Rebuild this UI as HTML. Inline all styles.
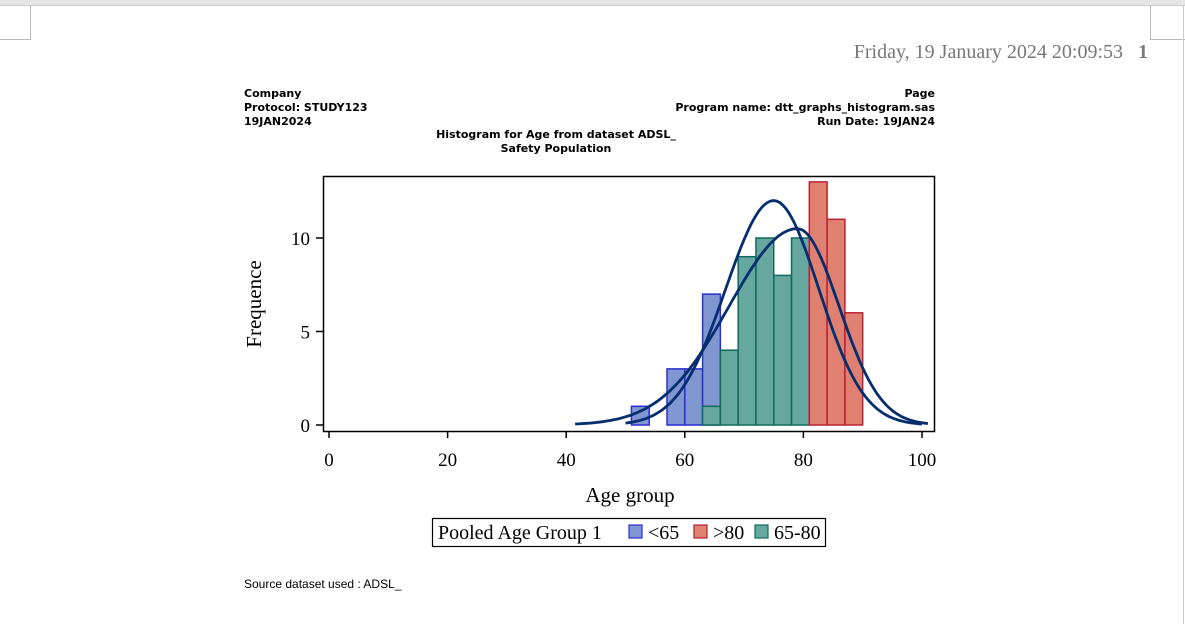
<!DOCTYPE html>
<html><head><meta charset="utf-8"><style>
body{margin:0;width:1185px;height:624px;background:#fff;overflow:hidden;position:relative;font-family:"Liberation Sans",sans-serif}
.t{position:absolute;font-family:"DejaVu Sans",sans-serif;font-size:11px;font-weight:bold;white-space:nowrap}
</style></head><body>
<div style="position:absolute;left:0;top:0;width:1185px;height:5px;background:#e6e6e6;border-bottom:1px solid #ccc"></div>
<div style="position:absolute;left:0;top:6px;width:30px;height:33px;border-right:1px solid #bbb;border-bottom:1px solid #bbb"></div>
<div style="position:absolute;left:1150px;top:6px;width:35px;height:33px;border-left:1px solid #bbb;border-bottom:1px solid #bbb"></div>
<div style="position:absolute;left:1183px;top:6px;width:1px;height:618px;background:#ccc"></div>
<div style="position:absolute;right:37px;top:41px;font-family:'Liberation Serif',serif;font-size:20px;color:#777;white-space:nowrap">Friday, 19 January 2024 20:09:53 &nbsp;&nbsp;<b>1</b></div>
<div class="t" style="left:244px;top:87px">Company</div>
<div class="t" style="left:244px;top:101px">Protocol: STUDY123</div>
<div class="t" style="left:244px;top:115px">19JAN2024</div>
<div class="t" style="right:250px;top:87px">Page</div>
<div class="t" style="right:250px;top:101px">Program name: dtt_graphs_histogram.sas</div>
<div class="t" style="right:250px;top:115px">Run Date: 19JAN24</div>
<div class="t" style="left:0;width:1112px;text-align:center;top:128px">Histogram for Age from dataset ADSL_</div>
<div class="t" style="left:0;width:1112px;text-align:center;top:142px">Safety Population</div>
<div style="position:absolute;left:244px;top:577px;font-size:12px">Source dataset used : ADSL_</div>
<svg id="s" width="1185" height="624" style="position:absolute;left:0;top:0" font-family="Liberation Serif,serif"></svg>
<script>
const s=document.getElementById('s');
const X=v=>329+v*5.93, Y=v=>425-v*18.7;
let h='<rect x="323.5" y="176.5" width="611" height="255" fill="none" stroke="#000" stroke-width="1.5"/>';
const bars=[[51,1,'b'],[57,3,'b'],[60,3,'b'],[63,7,'b'],[63,1,'g'],[66,4,'g'],[69,9,'g'],[72,10,'g'],[75,8,'g'],[78,10,'g'],[81,13,'r'],[84,11,'r'],[87,6,'r']];
const col={b:['#7f96d1','#2a2fd0'],g:['#66a8a0','#0f6a5c'],r:['#e08070','#b82233']};
for(const [a,c,k] of bars){h+=`<rect x="${X(a)}" y="${Y(c)}" width="${3*5.93}" height="${c*18.7}" fill="${col[k][0]}" stroke="${col[k][1]}" stroke-width="1.5"/>`;}
function curve(m,sl,sr,A,a,b){let p='';for(let v=a;v<=b;v+=0.5){const sd=v<m?sl:sr;p+=(p?'L':'M')+X(v).toFixed(1)+','+Y(A*Math.exp(-((v-m)**2)/(2*sd*sd))).toFixed(1);}return `<path d="${p}" fill="none" stroke="#062e6f" stroke-width="2.8"/>`;}
h+=curve(75,8.1,7.6,12,50,100)+curve(79,11.5,7,10.5,41.5,101);
for(const v of [0,20,40,60,80,100]){h+=`<line x1="${X(v)}" y1="431" x2="${X(v)}" y2="438" stroke="#000" stroke-width="1.5"/><text x="${X(v)}" y="466" font-size="19" text-anchor="middle">${v}</text>`;}
for(const v of [0,5,10]){h+=`<line x1="316" y1="${Y(v)}" x2="323" y2="${Y(v)}" stroke="#000" stroke-width="1.5"/><text x="310" y="${Y(v)+7}" font-size="19" text-anchor="end">${v}</text>`;}
h+=`<text x="630" y="502" font-size="21" text-anchor="middle">Age group</text>`;
h+=`<text transform="translate(261,304) rotate(-90)" font-size="21" text-anchor="middle">Frequence</text>`;
h+=`<rect x="432.5" y="518.5" width="393" height="28" fill="#fff" stroke="#000" stroke-width="1.2"/>`;
h+=`<text x="438" y="539" font-size="20">Pooled Age Group 1</text>`;
const lg=[[629,'b','&lt;65'],[694,'r','&gt;80'],[755,'g','65-80']];
for(const [x,k,t] of lg){h+=`<rect x="${x}" y="525" width="13" height="13" fill="${col[k][0]}" stroke="${col[k][1]}" stroke-width="1.2"/><text x="${x+19}" y="539" font-size="20">${t}</text>`;}
s.innerHTML=h;
</script>
</body></html>
